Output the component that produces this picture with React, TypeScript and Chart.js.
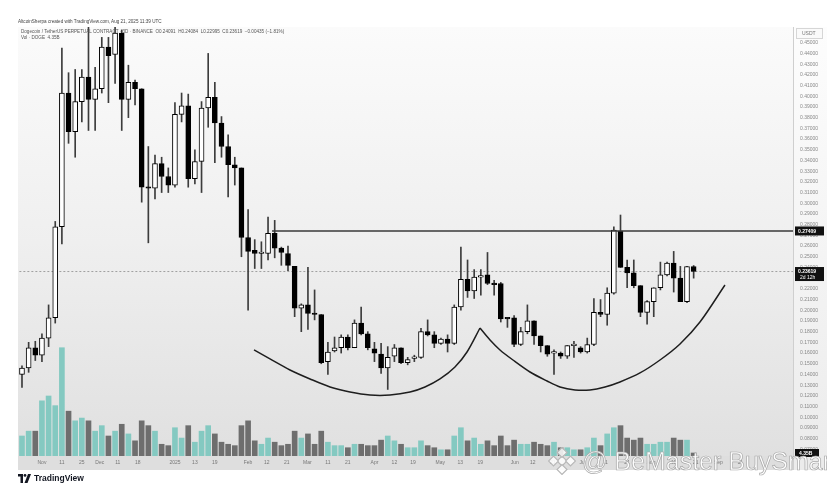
import React, { useEffect, useRef } from "react";
import { Chart, registerables } from "chart.js";
Chart.register(...registerables);

// ---- data (3D candles, DOGE/USDT perp) ----
const opens = [
  0.140, 0.146, 0.165, 0.158, 0.174, 0.193, 0.278, 0.403, 0.367, 0.395,
  0.418, 0.397, 0.407, 0.446, 0.439, 0.459, 0.397, 0.413, 0.407, 0.315,
  0.314, 0.337, 0.325, 0.317, 0.383, 0.391, 0.323, 0.339, 0.389, 0.399,
  0.375, 0.353, 0.336, 0.333, 0.268, 0.256, 0.253, 0.253, 0.272, 0.258,
  0.253, 0.241, 0.202, 0.205, 0.197, 0.196, 0.152, 0.162, 0.165, 0.175,
  0.165, 0.188, 0.178, 0.164, 0.159, 0.146, 0.157, 0.165, 0.151, 0.155,
  0.156, 0.180, 0.177, 0.169, 0.173, 0.169, 0.203, 0.229, 0.218, 0.231,
  0.233, 0.225, 0.225, 0.193, 0.193, 0.168, 0.180, 0.190, 0.176, 0.167,
  0.160, 0.160, 0.157, 0.167, 0.165, 0.161, 0.168, 0.198, 0.196, 0.216,
  0.274, 0.240, 0.235, 0.223, 0.198, 0.208, 0.221, 0.233, 0.244, 0.230,
  0.208, 0.2409,
];
const highs = [
  0.148, 0.170, 0.171, 0.178, 0.205, 0.283, 0.445, 0.422, 0.425, 0.425,
  0.465, 0.427, 0.455, 0.455, 0.465, 0.462, 0.429, 0.415, 0.407, 0.353,
  0.345, 0.343, 0.333, 0.394, 0.403, 0.402, 0.350, 0.395, 0.440, 0.413,
  0.381, 0.364, 0.343, 0.333, 0.294, 0.266, 0.264, 0.287, 0.284, 0.259,
  0.260, 0.241, 0.206, 0.240, 0.219, 0.196, 0.170, 0.175, 0.177, 0.177,
  0.191, 0.203, 0.180, 0.170, 0.169, 0.166, 0.168, 0.165, 0.156, 0.158,
  0.183, 0.191, 0.180, 0.174, 0.177, 0.205, 0.259, 0.247, 0.238, 0.238,
  0.254, 0.228, 0.226, 0.193, 0.195, 0.184, 0.205, 0.190, 0.176, 0.167,
  0.163, 0.161, 0.167, 0.171, 0.166, 0.174, 0.211, 0.210, 0.221, 0.278,
  0.289, 0.247, 0.247, 0.223, 0.209, 0.221, 0.245, 0.245, 0.255, 0.241,
  0.241, 0.2418,
];
const lows = [
  0.128, 0.142, 0.153, 0.152, 0.166, 0.188, 0.262, 0.356, 0.343, 0.376,
  0.368, 0.368, 0.403, 0.394, 0.412, 0.368, 0.380, 0.392, 0.301, 0.263,
  0.304, 0.310, 0.310, 0.315, 0.376, 0.315, 0.318, 0.310, 0.371, 0.338,
  0.343, 0.306, 0.317, 0.250, 0.200, 0.239, 0.239, 0.247, 0.249, 0.242,
  0.237, 0.194, 0.180, 0.182, 0.191, 0.150, 0.140, 0.161, 0.160, 0.163,
  0.165, 0.177, 0.163, 0.152, 0.141, 0.126, 0.152, 0.150, 0.149, 0.152,
  0.155, 0.176, 0.165, 0.168, 0.161, 0.168, 0.200, 0.212, 0.211, 0.214,
  0.224, 0.214, 0.189, 0.184, 0.166, 0.167, 0.178, 0.168, 0.161, 0.157,
  0.140, 0.155, 0.155, 0.156, 0.160, 0.160, 0.167, 0.194, 0.186, 0.215,
  0.240, 0.221, 0.221, 0.194, 0.187, 0.194, 0.219, 0.232, 0.217, 0.208,
  0.207, 0.2300,
];
const closes = [
  0.146, 0.165, 0.158, 0.174, 0.193, 0.278, 0.403, 0.367, 0.395, 0.418,
  0.397, 0.407, 0.446, 0.438, 0.459, 0.397, 0.413, 0.407, 0.315, 0.314,
  0.337, 0.325, 0.317, 0.383, 0.391, 0.323, 0.339, 0.389, 0.399, 0.375,
  0.353, 0.336, 0.333, 0.268, 0.255, 0.253, 0.2535, 0.272, 0.258, 0.254,
  0.242, 0.202, 0.205, 0.197, 0.196, 0.151, 0.161, 0.165, 0.175, 0.165,
  0.188, 0.178, 0.165, 0.160, 0.146, 0.156, 0.165, 0.151, 0.154, 0.156,
  0.180, 0.177, 0.169, 0.173, 0.169, 0.203, 0.229, 0.218, 0.231, 0.232,
  0.225, 0.224, 0.192, 0.192, 0.168, 0.180, 0.190, 0.176, 0.167, 0.159,
  0.161, 0.157, 0.167, 0.1675, 0.161, 0.168, 0.198, 0.196, 0.216, 0.275,
  0.240, 0.235, 0.223, 0.198, 0.208, 0.221, 0.233, 0.244, 0.230, 0.208,
  0.2409, 0.23619,
];
// volume in billions of DOGE
const volumes = [
  29, 36, 36, 80, 87, 73, 157, 65, 51, 55,
  51, 36, 44, 29, 36, 46, 32, 22, 51, 44,
  36, 17, 15, 41, 26, 44, 20, 36, 44, 32,
  20, 17, 15, 44, 51, 22, 17, 26, 20, 15,
  17, 36, 26, 32, 17, 36, 20, 15, 15, 12,
  17, 17, 15, 15, 23, 29, 22, 17, 12, 12,
  22, 15, 12, 9, 9, 29, 41, 22, 26, 17,
  22, 15, 29, 15, 23, 17, 17, 20, 17, 15,
  20, 12, 12, 9, 9, 12, 26, 15, 32, 41,
  44, 26, 23, 26, 17, 17, 20, 20, 26, 23,
  23, 4.35,
];

// time axis labels (position in candle index units)
const timeTickPos = [3, 6, 9, 11.7, 14.4, 17.4, 23, 26, 29, 34, 36.8, 39.8, 42.9, 46, 49, 53, 56, 58.8, 62.9, 65.9, 68.9, 74.1, 76.8, 79.8, 84.3, 87.7, 91, 94.6, 98, 101.3, 104.7, 108];
const timeTickLabels = ["Nov", "11", "25", "Dec", "11", "18", "2025", "13", "19", "Feb", "12", "21", "Mar", "11", "21", "Apr", "12", "19", "May", "13", "19", "Jun", "12", "21", "Jul", "11", "21", "Aug", "11", "21", "Sep", "11"];

// drawings
const resistancePrice = 0.27409;
const resistanceStart = 37.6;
const lastPrice = 0.23619;
const lastVolumeText = "4.35B";
const countdownText = "2d 12h";
const cup1X = [34.89, 37.29, 40.3, 43.31, 46.32, 49.32, 52.33, 55.34, 58.35, 60.6, 62.86, 65.11, 66.92, 68.87];
const cup1Y = [0.1629, 0.1545, 0.1442, 0.1358, 0.1283, 0.1236, 0.1208, 0.1208, 0.1236, 0.1283, 0.1358, 0.147, 0.161, 0.1834];
const cup2X = [68.87, 70.38, 71.88, 73.83, 76.39, 78.95, 80.9, 83.16, 85.41, 87.67, 89.92, 92.93, 95.94, 98.95, 101.95, 105.71];
const cup2Y = [0.1834, 0.1722, 0.1629, 0.1535, 0.1423, 0.1339, 0.1283, 0.1255, 0.1255, 0.1283, 0.133, 0.1414, 0.1535, 0.1685, 0.189, 0.2236];

// view ranges
const xMin = -0.6;
const xMax = 115.94;
const yMin = 0.0638;
const yMax = 0.4647;
const volMax = 622;

const FONT = "'Liberation Sans', Arial, sans-serif";

const bgPlugin = {
  id: "tvbg",
  beforeDraw(chart: any) {
    const { ctx, chartArea: a } = chart;
    ctx.save();
    ctx.fillStyle = "#ffffff";
    ctx.fillRect(0, 0, chart.width, chart.height);
    const g = ctx.createLinearGradient(0, a.top, 0, a.bottom);
    g.addColorStop(0, "#fbfbfb");
    g.addColorStop(0.5, "#efefef");
    g.addColorStop(1, "#e0e0e0");
    ctx.fillStyle = g;
    ctx.fillRect(a.left, a.top, a.right - a.left, a.bottom - a.top);
    const g2 = ctx.createLinearGradient(0, a.top, 0, a.bottom);
    g2.addColorStop(0, "#fdfdfd");
    g2.addColorStop(1, "#ececec");
    ctx.fillStyle = g2;
    ctx.fillRect(a.right, a.top, chart.width - a.right, a.bottom - a.top + 14);
    ctx.fillStyle = "#dedede";
    ctx.fillRect(a.left, a.bottom, a.right - a.left, 14);
    ctx.strokeStyle = "#cfcfcf";
    ctx.lineWidth = 1;
    ctx.beginPath();
    ctx.moveTo(a.right + 0.5, a.top);
    ctx.lineTo(a.right + 0.5, a.bottom + 14);
    ctx.stroke();
    ctx.restore();
  },
  afterDraw(chart: any) {
    const { ctx, chartArea: a } = chart;
    const ys = chart.scales.y;
    const yv = chart.scales.yv;
    ctx.save();
    ctx.textBaseline = "middle";
    ctx.textAlign = "left";
    // USDT header box
    ctx.fillStyle = "#fafafa";
    ctx.fillRect(a.right + 3, a.top + 1, 27, 11);
    ctx.strokeStyle = "#d6d6d6";
    ctx.strokeRect(a.right + 3.5, a.top + 1.5, 26, 10);
    ctx.fillStyle = "#777";
    ctx.font = `5px ${FONT}`;
    ctx.fillText("USDT", a.right + 9, a.top + 7);
    // resistance label
    const ry = ys.getPixelForValue(resistancePrice);
    ctx.fillStyle = "#111";
    ctx.fillRect(a.right + 2, ry - 4.5, 29, 9);
    ctx.fillStyle = "#fff";
    ctx.font = `bold 5px ${FONT}`;
    ctx.fillText(resistancePrice.toFixed(5), a.right + 5, ry + 0.5);
    // last price label
    const ly = ys.getPixelForValue(lastPrice);
    ctx.fillStyle = "#111";
    ctx.fillRect(a.right + 2, ly - 4.5, 29, 14);
    ctx.fillStyle = "#fff";
    ctx.fillText(lastPrice.toFixed(5), a.right + 5, ly);
    ctx.font = `5px ${FONT}`;
    ctx.fillText(countdownText, a.right + 7, ly + 6);
    // volume label
    const vy = yv.getPixelForValue(volumes[volumes.length - 1]);
    ctx.fillStyle = "#111";
    ctx.fillRect(a.right + 2, vy - 4, 24, 8);
    ctx.fillStyle = "#fff";
    ctx.font = `bold 5px ${FONT}`;
    ctx.fillText(lastVolumeText, a.right + 6, vy + 0.5);
    ctx.restore();
  },
};

export default function App() {
  const ref = useRef<HTMLCanvasElement>(null);
  useEffect(() => {
    if (!ref.current) return;
    const idx = opens.map((_, i) => i);
    const up = idx.map((i) => closes[i] >= opens[i]);
    const chart = new Chart(ref.current, {
      type: "bar",
      data: {
        datasets: [
          {
            type: "bar",
            label: "Volume",
            data: idx.map((i) => ({ x: i, y: volumes[i] })),
            yAxisID: "yv",
            backgroundColor: idx.map((i) => (up[i] ? "#84c9c1" : "#6e6e6e")),
            barThickness: 5,
            grouped: false,
            order: 10,
          } as any,
          {
            type: "line",
            label: "Last",
            data: [
              { x: xMin - 1, y: lastPrice },
              { x: xMax + 1, y: lastPrice },
            ],
            yAxisID: "y",
            borderColor: "#a0a0a0",
            borderWidth: 1,
            borderDash: [2, 2],
            pointRadius: 0,
            order: 9,
          } as any,
          {
            type: "bar",
            label: "Wick",
            data: idx.map((i) => ({ x: i, y: [lows[i], highs[i]] })),
            yAxisID: "y",
            backgroundColor: "#3c3c3c",
            barThickness: 1,
            grouped: false,
            order: 6,
          } as any,
          {
            type: "bar",
            label: "Body",
            data: idx.map((i) => ({ x: i, y: [opens[i], closes[i]] })),
            yAxisID: "y",
            backgroundColor: idx.map((i) => (up[i] ? "#ffffff" : "#000000")),
            borderColor: "#000000",
            borderWidth: 1,
            borderSkipped: false,
            barThickness: 5,
            minBarLength: 1.5,
            grouped: false,
            order: 5,
          } as any,
          {
            type: "line",
            label: "Resistance",
            data: [
              { x: resistanceStart, y: resistancePrice },
              { x: xMax + 1, y: resistancePrice },
            ],
            yAxisID: "y",
            borderColor: "#3a3a3a",
            borderWidth: 1.6,
            pointRadius: 0,
            order: 2,
          } as any,
          {
            type: "line",
            label: "Cup1",
            data: cup1X.map((x, k) => ({ x, y: cup1Y[k] })),
            yAxisID: "y",
            borderColor: "#1e1e1e",
            borderWidth: 1.5,
            pointRadius: 0,
            tension: 0.3,
            order: 1,
          } as any,
          {
            type: "line",
            label: "Cup2",
            data: cup2X.map((x, k) => ({ x, y: cup2Y[k] })),
            yAxisID: "y",
            borderColor: "#1e1e1e",
            borderWidth: 1.5,
            pointRadius: 0,
            tension: 0.3,
            order: 1,
          } as any,
        ],
      },
      options: {
        animation: false,
        responsive: false,
        maintainAspectRatio: false,
        layout: { padding: { left: 18, top: 27, right: 0, bottom: 0 } },
        plugins: { legend: { display: false }, tooltip: { enabled: false } },
        scales: {
          x: {
            type: "linear",
            min: xMin,
            max: xMax,
            offset: false,
            grid: { display: false, drawTicks: false },
            border: { display: false },
            afterBuildTicks: (axis: any) => {
              axis.ticks = timeTickPos.map((v) => ({ value: v }));
            },
            afterFit: (axis: any) => {
              axis.height = 34;
            },
            ticks: {
              autoSkip: false,
              maxRotation: 0,
              padding: 4,
              color: "#777",
              font: { size: 5, family: FONT },
              callback: (_v: any, k: number) => timeTickLabels[k],
            },
          },
          y: {
            type: "linear",
            position: "right",
            min: yMin,
            max: yMax,
            grid: { display: false, drawTicks: false },
            border: { display: false },
            afterFit: (axis: any) => {
              axis.width = 34;
            },
            ticks: {
              stepSize: 0.01,
              includeBounds: false,
              padding: 7,
              color: "#888",
              font: { size: 5, family: FONT },
              callback: (v: any) => Number(v).toFixed(5),
            },
          },
          yv: {
            type: "linear",
            display: false,
            min: 0,
            max: volMax,
          },
        },
      } as any,
      plugins: [bgPlugin],
    });
    return () => chart.destroy();
  }, []);

  return (
    <div style={{ position: "fixed", left: 0, top: 0, width: 827, height: 490, background: "#fff", overflow: "hidden" }}>
      <canvas ref={ref} width={827} height={490} style={{ position: "absolute", left: 0, top: 0, width: 827, height: 490 }} />
      <div style={{ position: "absolute", left: 18, top: 19, fontFamily: FONT, fontSize: 4.6, color: "#444", whiteSpace: "nowrap", lineHeight: "6px" }}>
        AltcoinSherpa created with TradingView.com, Aug 21, 2025 11:39 UTC
      </div>
      <div style={{ position: "absolute", left: 21, top: 29, fontFamily: FONT, fontSize: 4.6, color: "#555", whiteSpace: "nowrap", lineHeight: "6px" }}>
        Dogecoin / TetherUS PERPETUAL CONTRACT · 3D · BINANCE&nbsp;&nbsp;O0.24091&nbsp;&nbsp;H0.24084&nbsp;&nbsp;L0.22995&nbsp;&nbsp;C0.23619&nbsp;&nbsp;−0.00435 (−1.81%)
      </div>
      <div style={{ position: "absolute", left: 21, top: 35, fontFamily: FONT, fontSize: 4.6, color: "#555", whiteSpace: "nowrap", lineHeight: "6px" }}>
        Vol · DOGE&nbsp;&nbsp;4.35B
      </div>
      <div style={{ position: "absolute", left: 18, top: 473, display: "flex", alignItems: "center", gap: 3 }}>
        <svg width="13" height="9" viewBox="0 0 13 9">
          <path d="M0 0 H5 V9 H2.5 V2.5 H0 Z" fill="#131722" />
          <circle cx="7" cy="1.4" r="1.4" fill="#131722" />
          <path d="M10 0 H13 L9.5 9 H6.5 Z" fill="#131722" />
        </svg>
        <span style={{ fontFamily: FONT, fontSize: 8.5, fontWeight: 700, color: "#131722", lineHeight: "10px" }}>TradingView</span>
      </div>
      <div style={{ position: "absolute", left: 548, top: 447, display: "flex", alignItems: "center", gap: 6 }}>
        <svg width="28" height="28" viewBox="0 0 28 28">
          <g fill="rgba(255,255,255,0.85)" stroke="#b8b8b8" strokeWidth="1.2">
            <rect x="10.5" y="10.5" width="7" height="7" transform="rotate(45 14 14)" />
            <rect x="10.5" y="2" width="7" height="7" transform="rotate(45 14 5.5)" />
            <rect x="10.5" y="19" width="7" height="7" transform="rotate(45 14 22.5)" />
            <rect x="2" y="10.5" width="7" height="7" transform="rotate(45 5.5 14)" />
            <rect x="19" y="10.5" width="7" height="7" transform="rotate(45 22.5 14)" />
          </g>
        </svg>
        <span style={{ fontFamily: FONT, fontSize: 25, color: "rgba(255,255,255,0.92)", WebkitTextStroke: "0.7px #a8a8a8", whiteSpace: "nowrap", lineHeight: "28px" } as any}>
          @ BeMaster BuySmart
        </span>
      </div>
    </div>
  );
}
